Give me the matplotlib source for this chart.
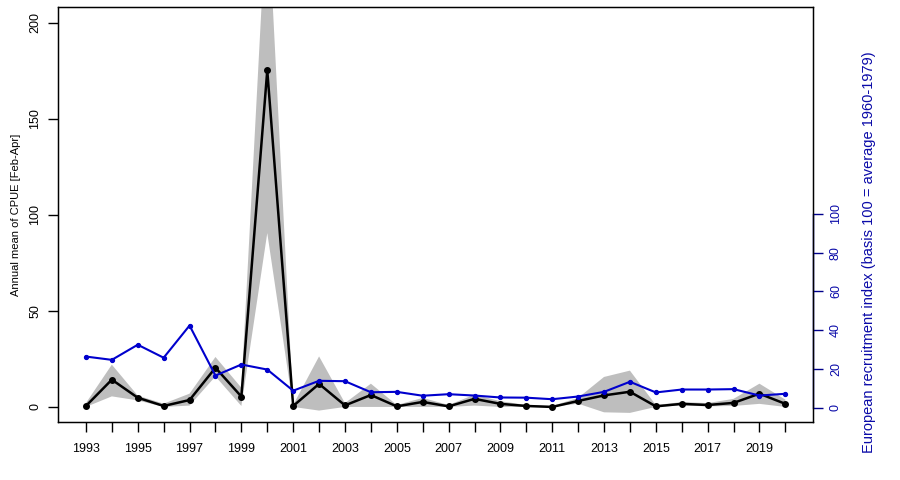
import matplotlib.pyplot as plt
import numpy as np

plt.rcParams['font.family'] = ['Liberation Sans', 'DejaVu Sans']

years = np.arange(1993, 2021)

# annual mean CPUE (left axis) with its band
cpue = [0.5, 14.2, 4.8, 0.5, 3.6, 20.4, 5.4, 175.2, 0.5, 12.0,
        0.8, 6.2, 0.3, 2.6, 0.3, 4.2, 1.6, 0.5, 0.0, 3.1,
        6.0, 7.9, 0.3, 1.6, 1.0, 2.1, 6.9, 1.6]
cpue_low = [0.0, 5.5, 3.4, 0.0, 0.7, 15.9, 0.5, 90.5, 0.0, -1.9,
            0.0, 0.0, 0.0, 0.0, 0.0, 0.7, 0.0, 0.0, 0.0, 1.7,
            -2.8, -3.1, 0.0, 0.8, 0.3, 0.5, 1.6, 0.0]
cpue_high = [2.0, 22.0, 5.9, 1.7, 6.9, 26.0, 10.0, 265.0, 1.0, 26.3,
             2.0, 12.1, 1.0, 4.7, 1.0, 6.4, 3.0, 1.0, 0.5, 4.7,
             15.6, 18.9, 1.0, 2.5, 2.0, 4.2, 12.1, 3.8]

# European recruitment index (right axis)
recruit = [26.4, 24.7, 32.5, 25.8, 42.4, 16.6, 22.3, 19.7, 8.8, 13.9,
           13.7, 8.0, 8.2, 6.2, 7.0, 6.3, 5.3, 5.2, 4.4, 5.8,
           8.2, 13.4, 7.9, 9.4, 9.4, 9.6, 6.3, 7.2]

blue = '#0000CD'
axblue = '#00008B'
txtblue = '#0A0AA8'

fig = plt.figure(figsize=(9, 4.8), dpi=100)
ax = fig.add_axes([0.0644, 0.1202, 0.8393, 0.8646])

ax.fill_between(years, cpue_low, cpue_high, color='#bebebe', linewidth=0)
ax.plot(years, cpue, color='black', lw=1.8, marker='o', markersize=4)

ax.set_xlim(1991.92, 2021.08)
ax.set_ylim(-8, 208)
ax.set_xticks(years)
ax.set_xticklabels([str(y) if y % 2 == 1 else '' for y in years])
ax.set_yticks([0, 50, 100, 150, 200])
ax.set_yticklabels(['0', '50', '100', '150', '200'], rotation=90, va='center')
ax.tick_params(axis='both', direction='out', length=7, width=1, labelsize=9, pad=5)
ax.tick_params(axis='x', pad=8)
ax.set_ylabel('Annual mean of CPUE [Feb-Apr]', fontsize=8, labelpad=6)
for s in ax.spines.values():
    s.set_linewidth(1)

ax2 = ax.twinx()
ax2.plot(years, recruit, color=blue, lw=1.5, marker='o', markersize=2.8)
ax2.set_ylim(-7.5, 206.5)
ax2.set_yticks([0, 20, 40, 60, 80, 100])
ax2.set_yticklabels(['0', '20', '40', '60', '80', '100'], rotation=90, va='center')
ax2.tick_params(axis='y', direction='out', length=7, width=1, labelsize=9,
                colors=axblue, labelcolor=txtblue, pad=5)
ax2.plot([1, 1], [0, 100], color=axblue, lw=1, transform=ax2.get_yaxis_transform(),
         clip_on=False)
ax2.set_ylabel('European recruitment index (basis 100 = average 1960-1979)',
               fontsize=10.5, color=txtblue)
ax2.yaxis.set_label_coords(1.064, 0.41)

fig.savefig('out.png', dpi=100)
